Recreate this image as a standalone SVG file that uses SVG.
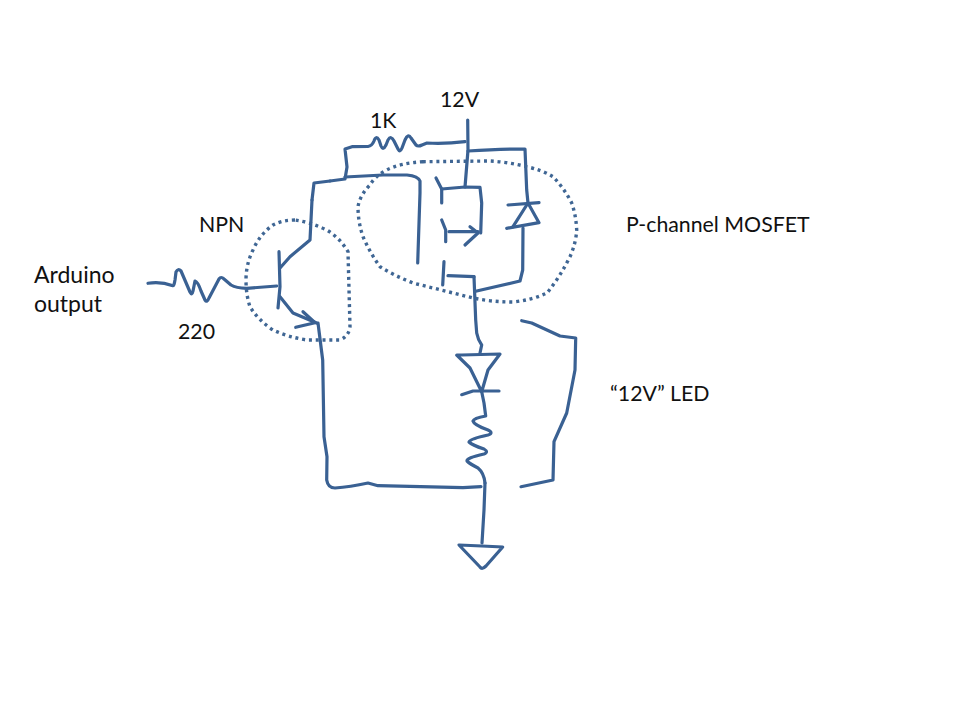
<svg xmlns="http://www.w3.org/2000/svg" width="960" height="720" viewBox="0 0 960 720">
<style>
.w{fill:none;stroke:#3a6193;stroke-width:3.2;stroke-linecap:round;stroke-linejoin:round}
.d{fill:none;stroke:#3f6694;stroke-width:3.4;stroke-dasharray:3 3.8}
text{font-family:Lato,"Open Sans","Liberation Sans",sans-serif;font-size:21.300px;fill:#111}
.l{font-size:23px}
</style>
<rect width="960" height="720" fill="#fff"/>
<g id="labels">
<text x="440" y="107">12V</text>
<text x="370" y="128">1K</text>
<text x="199" y="232">NPN</text>
<text class="l" x="34" y="283">Arduino</text>
<text class="l" x="34" y="312">output</text>
<text x="178" y="339">220</text>
<text x="626" y="232">P-channel MOSFET</text>
<text x="610" y="401">“12V” LED</text>
</g>
<g id="connectors">
<path class="w" d="M467.700 120L468 150L465 187"/>
<path class="w" d="M468 151Q500 149 525 149L526.700 190L528 203"/>
<path class="w" d="M330 181L345 179L347 167L345 149L352 146.700L368 146.500Q372 146 374 141Q376 135 379 140L381 146Q383 151 386 145L388 140Q391 135 394 141L398 149Q400 153 402 148L405 140Q408 133 411 138L416 145Q418 147 422 145L427 143Q445 144 465 141.700"/>
<path class="w" d="M312 200L314 183L330 181"/>
<path class="w" d="M345 177L383 175L407 175Q418 176 420 181L420 193L417.700 263"/>
<path class="w" d="M523 228L522.700 270L520 281L476.700 291"/>
<path class="w" d="M474 276.700L475.700 320L476.700 333Q478 340 481.700 345L480 353"/>
<path class="w" d="M318 323L322.700 360L324 436.700L327 456.700L326.700 480Q328 488 335 488Q350 487 368 483L378 485.700L463 487.700L481 486.700"/>
<path class="w" d="M148 283.300Q160 281 173 285.700Q174 286 175 280L176 272Q178 268 181 271L190 292Q192 296 193 291L195 281Q198 282 201 291L205 300Q207 303 209 298L219 279Q221 276 224 279L231 285Q236 288 246.700 288.300L276.700 286"/>
<path class="w" d="M485 483L484 510L482 543"/>
<path class="w" d="M521.700 320.700L531.700 323L560 336L575.700 338L575 370L566.700 413L554 441.700L553 480L521 486.700"/>
</g>
<g id="npn">
<path class="d" d="M295 220Q282 220 273 225Q260 234 253 250Q246 264 246 280Q246 295 250 306.700Q258 320 273 330Q288 337 306.700 340L340 340Q349 336 350 326.700L348 251.700Q340 238 326.700 230Q310 222 295 220Z"/>
<path class="w" d="M312 200L310 240L290 256.700L280 268"/>
<path class="w" d="M279 251.700L280 286.700L278 308"/>
<path class="w" d="M280 296.700L293 313L316.700 323"/>
<path class="w" d="M303 311.700L315 322.700L295.700 327.300"/>
</g>
<g id="mosfet">
<path class="d" d="M423 161.700Q400 163 386.700 170Q375 176 370 185Q360 195 358 206.700Q358 222 363 236.700Q370 253 380 266.700Q395 276 413 283L473 298Q492 302 513 302Q532 300 547 293Q560 277 570 256.700Q576 243 576.700 230Q576 215 571.700 203Q564 188 553 176.700Q542 170 526.700 166.700Q508 162 490 161Z"/>
<path class="w" d="M436 178L441.700 189L441.700 203"/>
<path class="w" d="M441.700 189L465 187L480 187.300L481.700 203L480.700 233"/>
<path class="w" d="M441.700 220L445.700 230L445.700 241.700"/>
<path class="w" d="M449 231.700L478 231.700"/>
<path class="w" d="M470 226.700L478 233L465 245"/>
<path class="w" d="M444 261.700L442.700 285"/>
<path class="w" d="M448 275.700L474 276.700"/>
<path class="w" d="M508 205L539 202.700"/>
<path class="w" d="M528 203L539 222.700L506.700 228.300"/>
<path class="w" d="M528 203L513 226.700"/>
</g>
<g id="led">
<path class="w" d="M456.700 355L461.700 355L500 354L488 370L481.700 391.700L470 368Z"/>
<path class="w" d="M461.700 394.700L473 391L499 391"/>
</g>
<g id="resistor">
<path class="w" d="M481.700 391.700L484 403L485.700 416Q474 418 473 421Q474 425 488 430Q494 433 488 435Q470 439 469 442Q472 445 484 449Q489 452 484 454Q466 458 467 461Q470 464 478 468Q484 473 485 483"/>
</g>
<g id="ground">
<path class="w" d="M459 545L482 546L502.700 547L486 566Q482 570 480 567Z"/>
</g>
</svg>
